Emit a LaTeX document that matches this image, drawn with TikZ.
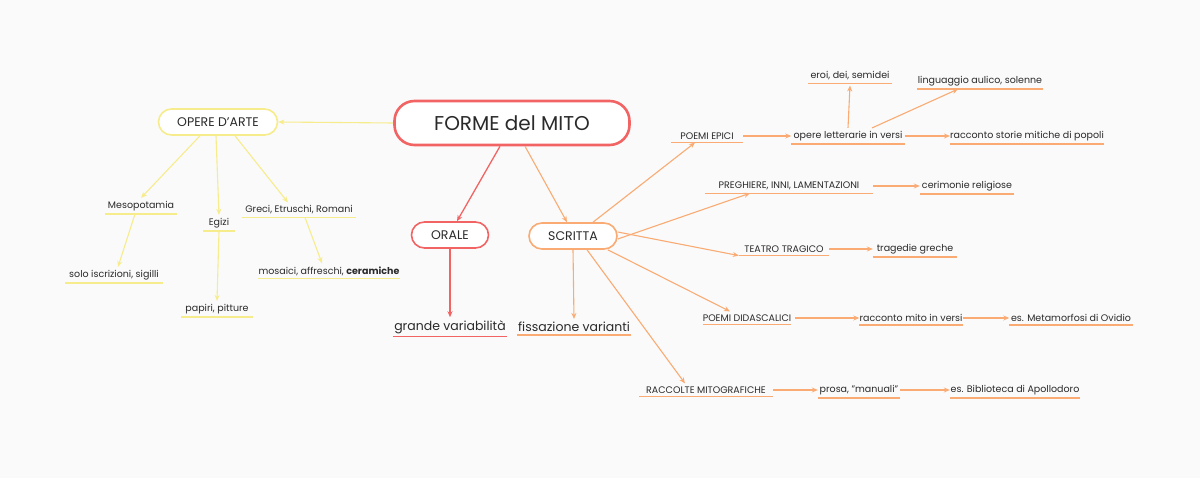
\documentclass[tikz,border=0pt]{standalone}
\usepackage{fontspec}
\setmainfont{Poppins}
\usetikzlibrary{arrows.meta}
\definecolor{redl}{HTML}{F26464}
\definecolor{orl}{HTML}{F9AB73}
\definecolor{yel}{HTML}{F6EC8C}
\definecolor{txt}{HTML}{2A2A2A}
\begin{document}
\begin{tikzpicture}[x=1pt,y=-1pt,
  every node/.style={text=txt,font=\fontsize{9.5}{11}\selectfont},
  topic/.style={draw=#1,rounded corners=13pt,line width=1.6pt,minimum height=26pt,fill=white,font=\fontsize{12.5}{14}\selectfont},
  leaf/.style 2 args={inner xsep=0pt,inner ysep=3pt,minimum width=#1,
    append after command={(\tikzlastnode.south west) edge[-,draw=#2,line width=1.3pt] (\tikzlastnode.south east)}},
  ya/.style={yel,line width=1.1pt,-{Stealth[length=6pt,width=5pt]}},
  oa/.style={orl,line width=1.1pt,-{Stealth[length=6pt,width=5pt]}},
  ra/.style={redl,line width=1.3pt,-{Stealth[length=6pt,width=5pt]}}]
\fill[white!98!black] (0,0) rectangle (1200,478);
\useasboundingbox (0,0) rectangle (1200,478);
% centre
\node[topic=redl,line width=2.6pt,rounded corners=20pt,minimum width=235pt,minimum height=44pt,font=\fontsize{20}{24}\selectfont] (mito) at (512,123) {FORME del MITO};
\node[topic=yel,minimum width=119pt] (arte) at (218,122) {OPERE D'ARTE};
\node[topic=redl,minimum width=77pt] (orale) at (450,235) {ORALE};
\node[topic=orl,minimum width=88pt] (scritta) at (573,236) {SCRITTA};
% orale / scritta
\node[leaf={114pt}{redl},font=\fontsize{12.5}{14}\selectfont] (variab) at (450,327) {grande variabilità};
\node[leaf={114pt}{orl},font=\fontsize{12.5}{14}\selectfont] (fissaz) at (574,327) {fissazione varianti};
% opere d'arte
\node[leaf={72pt}{yel}] (meso) at (141,206) {Mesopotamia};
\node[leaf={32pt}{yel}] (egizi) at (219,223) {Egizi};
\node[leaf={114pt}{yel}] (greci) at (299,210) {Greci, Etruschi, Romani};
\node[leaf={97pt}{yel}] (sigilli) at (114,275) {solo iscrizioni, sigilli};
\node[leaf={72pt}{yel}] (papiri) at (217,309) {papiri, pitture};
\node[leaf={140pt}{yel}] (mosaici) at (329,271) {mosaici, affreschi, \textbf{ceramiche}};
% scritta
\node[leaf={72pt}{orl}] (epici) at (707,136) {POEMI EPICI};
\node[leaf={113pt}{orl}] (versi) at (848,136) {opere letterarie in versi};
\node[leaf={151pt}{orl}] (popoli) at (1027,136) {racconto storie mitiche di popoli};
\node[leaf={84pt}{orl}] (eroi) at (850,76) {eroi, dei, semidei};
\node[leaf={125pt}{orl}] (aulico) at (980,81) {linguaggio aulico, solenne};
\node[leaf={168pt}{orl}] (preghiere) at (789,186) {PREGHIERE, INNI, LAMENTAZIONI};
\node[leaf={94pt}{orl}] (cerimonie) at (967,186) {cerimonie religiose};
\node[leaf={90pt}{orl}] (teatro) at (784,249) {TEATRO TRAGICO};
\node[leaf={84pt}{orl}] (tragedie) at (915,249) {tragedie greche};
\node[leaf={86pt}{orl}] (didasc) at (747,318) {POEMI DIDASCALICI};
\node[leaf={102pt}{orl}] (mitoversi) at (911,318) {racconto mito in versi};
\node[leaf={123pt}{orl}] (ovidio) at (1071,318) {es. Metamorfosi di Ovidio};
\node[leaf={133pt}{orl}] (raccolte) at (706,390) {RACCOLTE MITOGRAFICHE};
\node[leaf={82pt}{orl}] (manuali) at (859,390) {prosa, "manuali"};
\node[leaf={130pt}{orl}] (apoll) at (1015,390) {es. Biblioteca di Apollodoro};
% connectors
\draw[ya] (mito.west) -- (arte.east);
\draw[ra] ([xshift=-12pt]mito.south) -- ([xshift=7pt]orale.north);
\draw[oa] ([xshift=13pt]mito.south) -- ([xshift=-6pt]scritta.north);
\draw[ra] (orale.south) -- (variab.north);
\draw[oa] (scritta.south) -- (fissaz.north);
\draw[ya] ([xshift=-18pt]arte.south) -- (meso.north);
\draw[ya] ([xshift=-2pt]arte.south) -- (egizi.north);
\draw[ya] ([xshift=17pt]arte.south) -- ([xshift=-11pt]greci.north);
\draw[ya] ([xshift=-6pt]meso.south) -- ([xshift=4pt]sigilli.north);
\draw[ya] (egizi.south) -- (papiri.north);
\draw[ya] ([xshift=6pt]greci.south) -- ([xshift=-7pt]mosaici.north);
\draw[oa] ([xshift=20pt]scritta.north) -- ([xshift=-12pt]epici.south);
\draw[oa] ([yshift=-3pt]scritta.east) -- ([xshift=-39pt]preghiere.south);
\draw[oa] ([yshift=4pt]scritta.east) -- (teatro.south west);
\draw[oa] ([xshift=-10pt]scritta.south east) -- ([xshift=-17pt]didasc.north);
\draw[oa] ([xshift=14pt]scritta.south) -- ([xshift=-21pt]raccolte.north);
\draw[oa] (epici.east) -- (versi.west);
\draw[oa] (versi.east) -- (popoli.west);
\draw[oa] (versi.north) -- ([yshift=-2pt]eroi.south);
\draw[oa] ([xshift=24pt]versi.north) -- ([xshift=-22pt]aulico.south);
\draw[oa] (preghiere.east) -- (cerimonie.west);
\draw[oa] (teatro.east) -- (tragedie.west);
\draw[oa] ([xshift=4pt]didasc.east) -- (mitoversi.west);
\draw[oa] (mitoversi.east) -- (ovidio.west);
\draw[oa] (raccolte.east) -- (manuali.west);
\draw[oa] (manuali.east) -- (apoll.west);
\end{tikzpicture}
\end{document}
